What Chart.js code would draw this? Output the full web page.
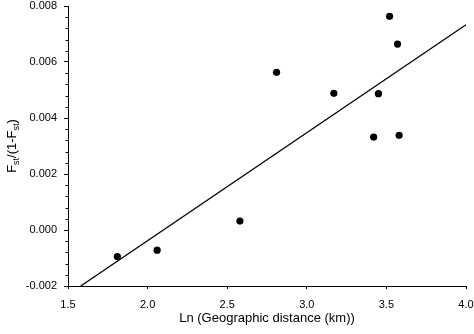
<!DOCTYPE html>
<html>
<head>
<meta charset="utf-8">
<script src="https://cdn.jsdelivr.net/npm/chart.js@4/dist/chart.umd.min.js"></script>
<style>
    html, body { margin: 0; padding: 0; background: #fff; }
    #wrap { width: 474px; height: 334px; }
</style>
</head>
<body>
<div id="wrap"><canvas id="ibdChart"></canvas></div>
<script>
    // Ln geographic distance (km) and Fst/(1-Fst) per population pair
    const lnDistance = [1.81, 2.06, 2.58, 2.81, 3.17, 3.42, 3.45, 3.52, 3.57, 3.58];
    const fstRatio = [-0.00095, -0.00072, 0.00032, 0.00563, 0.00488, 0.00332, 0.00487, 0.00763, 0.00664, 0.00338];

    // regression line, read from its two ends
    const fitX = [1.58, 4.0];
    const fitY = [-0.002, 0.00733];

    const xTicks = [1.5, 2.0, 2.5, 3.0, 3.5, 4.0];
    const yTicks = [-0.002, 0.000, 0.002, 0.004, 0.006, 0.008];
    const yMinorStep = 0.0004;

    const fontFamily = '"Liberation Sans", Arial, sans-serif';
    const ink = '#000';

    /**
     * Draws the short y minor ticks and the subscripted y-axis title.
     */
    const axisExtras = {
        id: 'axisExtras',
        afterDraw(chart) {
            const ctx = chart.ctx;
            const y = chart.scales.y;
            const left = chart.chartArea.left;

            ctx.save();
            ctx.strokeStyle = ink;
            ctx.lineWidth = 1;
            const lo = yTicks[0];
            const hi = yTicks[yTicks.length - 1];
            const n = Math.round((hi - lo) / yMinorStep);
            for (let i = 0; i <= n; i++) {
                if (i % 5 === 0) continue;
                const py = Math.round(y.getPixelForValue(lo + i * yMinorStep)) + 0.5;
                ctx.beginPath();
                ctx.moveTo(left - 2.5, py);
                ctx.lineTo(left, py);
                ctx.stroke();
            }

            // F_st/(1-F_st), rotated
            const parts = [
                { t: 'F', sub: false },
                { t: 'st', sub: true },
                { t: '/(1-F', sub: false },
                { t: 'st', sub: true },
                { t: ')', sub: false }
            ];
            const big = '13px ' + fontFamily;
            const small = '9px ' + fontFamily;
            let total = 0;
            parts.forEach(p => {
                ctx.font = p.sub ? small : big;
                p.w = ctx.measureText(p.t).width;
                total += p.w;
            });
            ctx.translate(16, (chart.chartArea.top + chart.chartArea.bottom) / 2);
            ctx.rotate(-Math.PI / 2);
            ctx.fillStyle = ink;
            ctx.textBaseline = 'alphabetic';
            let cx = -total / 2;
            parts.forEach(p => {
                ctx.font = p.sub ? small : big;
                ctx.fillText(p.t, cx, p.sub ? 3 : 0);
                cx += p.w;
            });
            ctx.restore();
        }
    };

    new Chart(document.getElementById('ibdChart'), {
        type: 'scatter',
        data: {
            datasets: [
                {
                    label: 'pairs',
                    data: lnDistance.map((x, i) => ({ x: x, y: fstRatio[i] })),
                    pointRadius: 3.6,
                    pointBackgroundColor: ink,
                    pointBorderWidth: 0,
                    showLine: false
                },
                {
                    label: 'fit',
                    data: fitX.map((x, i) => ({ x: x, y: fitY[i] })),
                    showLine: true,
                    borderColor: ink,
                    borderWidth: 1.3,
                    pointRadius: 0
                }
            ]
        },
        options: {
            responsive: true,
            maintainAspectRatio: false,
            animation: false,
            layout: { padding: { top: 6, right: 8 } },
            plugins: { legend: { display: false }, tooltip: { enabled: false } },
            scales: {
                x: {
                    min: 1.5,
                    max: 4.0,
                    afterBuildTicks: axis => { axis.ticks = xTicks.map(v => ({ value: v })); },
                    afterFit: axis => {
                        axis.height = 48;
                        axis.paddingLeft = 0;
                        axis.paddingRight = 0;
                    },
                    ticks: {
                        color: ink,
                        font: { family: fontFamily, size: 11 },
                        padding: 9,
                        maxRotation: 0,
                        callback: v => Number(v).toFixed(1)
                    },
                    grid: { drawOnChartArea: false, tickLength: 3, color: ink },
                    border: { color: ink, width: 1 },
                    title: {
                        display: true,
                        text: 'Ln (Geographic distance (km))',
                        color: ink,
                        font: { family: fontFamily, size: 13 },
                        padding: { top: 4, bottom: 8 }
                    }
                },
                y: {
                    min: -0.002,
                    max: 0.008,
                    afterBuildTicks: axis => { axis.ticks = yTicks.map(v => ({ value: v })); },
                    afterFit: axis => {
                        axis.width = 68;
                        axis.paddingTop = 0;
                        axis.paddingBottom = 0;
                    },
                    ticks: {
                        color: ink,
                        font: { family: fontFamily, size: 11 },
                        padding: 7,
                        callback: v => Number(v).toFixed(3)
                    },
                    grid: { drawOnChartArea: false, tickLength: 4, color: ink },
                    border: { color: ink, width: 1 }
                }
            }
        },
        plugins: [axisExtras]
    });
</script>
</body>
</html>
